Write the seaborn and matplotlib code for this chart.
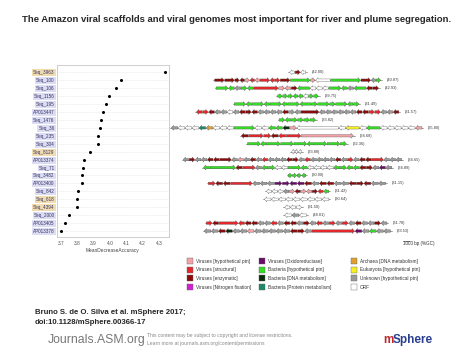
import re
import numpy as np
import pandas as pd
import matplotlib
matplotlib.use("Agg")
import matplotlib.pyplot as plt
import seaborn as sns
from matplotlib.patches import Rectangle

# --- data ---
seq_names = ["Seq_3963", "Seq_100", "Seq_106", "Seq_1156", "Seq_195", "AP013447",
             "Seq_1476", "Seq_36", "Seq_235", "Seq_304", "Seq_8129", "AP013374",
             "Seq_71", "Seq_3482", "AP013400", "Seq_842", "Seq_618", "Seq_4394",
             "Seq_2000", "AP013405", "AP013378"]
mean_decrease_acc = [4.337, 4.07, 4.035, 3.996, 3.976, 3.957, 3.945, 3.94, 3.928, 3.925,
                     3.88, 3.839, 3.837, 3.83, 3.829, 3.806, 3.80, 3.80, 3.749, 3.723, 3.70]
plume_seqs = ["Seq_3963", "Seq_8129", "Seq_618", "Seq_4394"]

# genome maps: start / end in kb, gene tokens (letter = category, upper = forward
# strand, lower = reverse strand, digit = relative gene length)
contig_start = [17.6, 6.9, 7.1, 15.9, 9.7, 4.3, 16.1, 0.7, 10.7, 11.6, 17.9,
                2.4, 5.3, 17.4, 6.0, 14.3, 14.0, 16.9, 16.9, 5.7, 5.4]
contig_end = [20.3, 31.0, 30.7, 22.1, 27.9, 33.6, 21.7, 36.9, 27.1, 26.1, 19.7,
              34.0, 32.6, 20.3, 31.7, 23.6, 23.6, 19.7, 20.4, 31.9, 32.4]
gene_tokens = [
    "r E r",
    "E2 E2 E e P s p S2 s S E2 G4 P r3 G6 E2 u G",
    "G2 g u G g S4 P p E g2 r r r G2 g u g2 e E",
    "G G G g g r G G",
    "G2 g G2 g G2 g G2 g2 G G2 G G2 g G",
    "s S e u u r u e E e u u u u e U u E3 u u u u u u e e S S u u e",
    "G g G G G G",
    "u r r r t a r r r G3 r r g g d P r6 r y2 r g2 r r r r r p",
    "e S2 S e s S2 P7",
    "G2 g G2 G2 G2 g G2 G2 G",
    "r R r",
    "u E u u e e E2 u p u e u s u u u e E u s u u u u e u S u e e S2 u u u",
    "g G4 e S2 u g G r r G2 g r r r r g G g g e E u o u",
    "G G G g",
    "S e e S3 u u u O O o o e u e e u u e E e u u",
    "r r r u P e P p E s g",
    "r r r r r r r r r",
    "r r R",
    "r u r",
    "S e S3 s e e u u s u e e u E u s u S u S u e u u E u",
    "u u e d u u p u u u u u e E u S6 o u g u u",
]
gc_content = ["42.00", "40.87", "42.93", "39.75", "31.49", "31.57", "33.82", "35.80",
              "34.68", "32.36", "33.88", "34.65", "34.89", "30.90", "31.15", "31.42",
              "30.64", "31.50", "48.01", "31.78", "33.53"]

cat_codes = ["p", "s", "e", "n", "o", "g", "d", "t", "a", "y", "u", "r"]
cat_labels = ["Viruses [hypothetical ptn]", "Viruses [structural]", "Viruses [enzymatic]",
              "Viruses [Nitrogen fixation]", "Viruses [Oxidoreductase]",
              "Bacteria [hypothetical ptn]", "Bacteria [DNA metabolism]",
              "Bacteria [Protein metabolism]", "Archaea [DNA metabolism]",
              "Eukaryota [hypothetical ptn]", "Unknown [hypothetical ptn]", "ORF"]
cat_colors = ["#f4a3a8", "#e5262b", "#8b0a0a", "#d21fd2", "#6a0a6a", "#33dd22",
              "#0a2a0a", "#1a8a6a", "#e0a030", "#f8f020", "#9a9a9a", "#ffffff"]
color_of = dict(zip(cat_codes, cat_colors))

df = pd.DataFrame({"seq": seq_names, "acc": mean_decrease_acc})

# --- figure ---
sns.set_style("white")
plt.rcParams["font.family"] = ["Liberation Sans", "DejaVu Sans"]
fig = plt.figure(figsize=(4.74, 3.55), dpi=100)

fig.text(0.5, 1 - 20 / 355, "The Amazon viral scaffolds and viral genomes most important for river and plume segregation.",
         ha="center", va="center", fontsize=6.8, weight="bold")

ylims = (20.75, -0.95)

# dot plot
ax = fig.add_axes([56.7 / 474, 1 - 237 / 355, (169 - 56.7) / 474, (237 - 64.7) / 355])
for i in range(len(seq_names)):
    ax.axhline(i, color="#dddddd", lw=0.4, ls=(0, (1, 1)), zorder=0)
sns.stripplot(data=df, x="acc", y="seq", jitter=False, color="black", size=2.2, ax=ax, zorder=3)
ax.set_ylim(*ylims)
ax.set_xlim(3.675, 4.36)
ax.set_xticks([3.7, 3.8, 3.9, 4.0, 4.1, 4.2, 4.3])
ax.set_xticklabels(["3.7", "3.8", "3.9", "4.0", "4.1", "4.2", "4.3"])
ax.set_xlabel("MeanDecreaseAccuracy", fontsize=3.5, color="#444444", labelpad=1.5)
ax.set_ylabel("")
ax.tick_params(axis="x", labelsize=3.5, colors="#555555", length=1.5, width=0.4, pad=1.5)
ax.tick_params(axis="y", labelsize=3.3, length=0, pad=1.5)
for sp in ax.spines.values():
    sp.set_color("#bbbbbb")
    sp.set_linewidth(0.5)
for lab in ax.get_yticklabels():
    bg = "#f1dcb0" if lab.get_text() in plume_seqs else "#dcdcf2"
    lab.set_color("#333366")
    lab.set_bbox(dict(facecolor=bg, edgecolor="none", pad=0.7))

# genome maps
gx0, gx1 = 165, 445
gax = fig.add_axes([gx0 / 474, 1 - 237 / 355, (gx1 - gx0) / 474, (237 - 64.7) / 355])
gax.set_xlim(0, (gx1 - gx0) / 7.0)
gax.set_ylim(*ylims)
gax.axis("off")

h = 0.62
for row, (x0, x1, toks, gc) in enumerate(zip(contig_start, contig_end, gene_tokens, gc_content)):
    gax.plot([x0, x1], [row, row], color="#777777", lw=0.5, zorder=1)
    genes = []
    for t in toks.split():
        m = re.match(r"([A-Za-z])(\d*)", t)
        genes.append((m.group(1), int(m.group(2) or 1)))
    total = sum(n for _, n in genes)
    unit = (x1 - x0 - 0.3) / total
    pos = x0 + 0.15
    for ch, n in genes:
        a, b = pos + 0.04, pos + n * unit - 0.04
        head = min(0.35, (b - a) * 0.6)
        if ch.isupper():
            xs = [a, b - head, b - head, b, b - head, b - head, a]
        else:
            xs = [b, a + head, a + head, a, a + head, a + head, b]
        ys = [row - h * 0.25, row - h * 0.25, row - h / 2, row, row + h / 2, row + h * 0.25, row + h * 0.25]
        gax.fill(xs, ys, facecolor=color_of[ch.lower()], edgecolor="#555555", lw=0.25, zorder=2)
        pos += n * unit
    gax.text(x1 + 0.7, row, "(" + gc + ")", fontsize=2.8, va="center", color="#333333")

fig.text(403 / 474, 1 - 243 / 355, "1000 bp (%GC)", fontsize=3.3, va="center", color="#333333")
fig.add_artist(plt.Line2D([403 / 474, 410 / 474], [1 - 240.5 / 355] * 2, color="#333333", lw=0.4))

# legend
col_x = [190, 262, 354]
row_y = [261, 269.7, 278.4, 287.1]
for k, (lab, col) in enumerate(zip(cat_labels, cat_colors)):
    cx, ry = col_x[k // 4], row_y[k % 4]
    fig.add_artist(Rectangle(((cx - 3) / 474, 1 - (ry + 3) / 355), 6 / 474, 6 / 355,
                             facecolor=col, edgecolor="#666666", lw=0.3, transform=fig.transFigure))
    fig.text((cx + 6) / 474, 1 - ry / 355, lab, fontsize=3.4, va="center", color="#333333")

# footer
fig.text(35 / 474, 1 - 313 / 355, "Bruno S. de O. Silva et al. mSphere 2017;", fontsize=5.6, weight="bold", va="center")
fig.text(35 / 474, 1 - 322 / 355, "doi:10.1128/mSphere.00366-17", fontsize=5.6, weight="bold", va="center")
fig.text(48 / 474, 1 - 340 / 355, "Journals.ASM.org", fontsize=8.8, color="#777777", va="center")
fig.text(147 / 474, 1 - 336 / 355, "This content may be subject to copyright and license restrictions.",
         fontsize=3.6, color="#888888", va="center")
fig.text(147 / 474, 1 - 343.5 / 355, "Learn more at journals.asm.org/content/permissions",
         fontsize=3.6, color="#888888", va="center")
fig.text(383 / 474, 1 - 340 / 355, "m", fontsize=8.5, color="#c0282d", weight="bold", va="center")
fig.text(393 / 474, 1 - 340 / 355, "Sphere", fontsize=8.5, color="#2a3f8f", weight="bold", va="center")

fig.savefig("out.png", dpi=100)
